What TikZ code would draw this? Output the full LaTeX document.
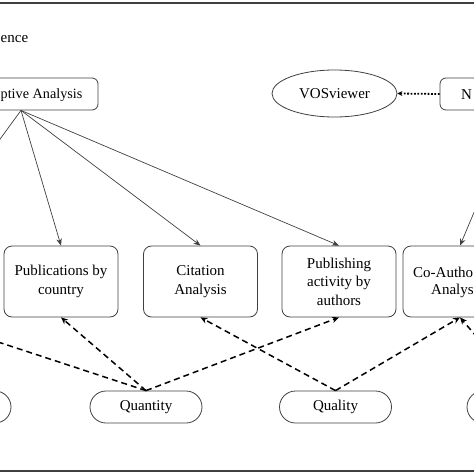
\documentclass[tikz,border=0pt]{standalone}
\usepackage{fontspec}
\setmainfont{Liberation Serif}
\usepackage{tikz}
\usetikzlibrary{arrows.meta,positioning,shapes.geometric}
\usepackage{xcolor}
\definecolor{edge}{HTML}{404040}
\tikzset{
  box/.style={draw=edge, line width=0.8pt, rounded corners=8pt, minimum width=114pt, minimum height=71pt, inner sep=0pt, align=center, font=\fontsize{15}{18.5}\selectfont},
  head/.style={draw=edge, line width=0.8pt, rounded corners=6pt, minimum width=154pt, minimum height=32pt, inner sep=0pt},
  pill/.style={draw=edge, line width=0.8pt, rounded corners=16pt, minimum width=112pt, minimum height=32pt, inner sep=0pt, font=\fontsize{15}{18}\selectfont},
  lbl/.style={inner sep=0pt, font=\fontsize{15}{18}\selectfont},
  feed/.style={-{Stealth[length=7pt,width=5.5pt]}, edge, line width=0.7pt},
  measure/.style={-{Stealth[length=7pt,width=6pt]}, black, line width=1.5pt, dash pattern=on 6pt off 4pt},
  dots/.style={-{Stealth[length=5pt,width=5pt]}, black, line width=1.8pt, dash pattern=on 1.8pt off 1.6pt}
}

\begin{document}
\begin{tikzpicture}[x=1pt,y=-1pt]
  \useasboundingbox (0,0) rectangle (474,474);
  \clip (0,0) rectangle (474,474);
  % frame
  \draw[edge, line width=1.2pt] (-200,3) rectangle (674,471);
  \node[lbl, anchor=west] (src) at (0.5,39) {ence};
  % top row
  \node[head] (desc) at (21,94) {};
  \node[lbl, anchor=west, font=\fontsize{14.2}{17}\selectfont] (desctxt) at (0.5,95) {ptive Analysis};
  \node[ellipse, draw=edge, line width=0.8pt, minimum width=125pt, minimum height=47pt, inner sep=0pt, font=\fontsize{15}{18}\selectfont] (vos) at (334.5,93.5) {VOSviewer};
  \node[head] (net) at (517,94) {};
  \node[lbl, anchor=west] (nettxt) at (461,95) {N};
  % middle row
  \coordinate (lboxtop) at (-78,246);
  \coordinate (lboxbot) at (-78,317);
  \node[box] (pub) at (61,281.5) {Publications by\\country};
  \node[box] (cit) at (200.5,281.5) {Citation\\Analysis};
  \node[box] (act) at (339,281.5) {Publishing\\activity by\\authors};
  \node[box] (coa) at (460,281.5) {};
  \node[lbl, anchor=west] (coatxt) at (413,272) {Co-Autho};
  \node[lbl, anchor=west] (coatxt2) at (431,291) {Analys};
  % bottom row
  \node[pill] (lpill) at (-45,407) {};
  \node[pill] (quant) at (146,407) {Quantity};
  \node[pill] (qual) at (335.5,407) {Quality};
  \node[pill] (rpill) at (523,407) {};
  % edges
  \foreach \t in {lboxtop,pub.north,cit.north,act.north}
    \draw[feed] (desc.south) -- (\t);
  \draw[feed] (net.south) -- (coa.north);
  \draw[dots] (net.west) -- (vos.east);
  \foreach \t in {lboxbot,pub.south,act.south}
    \draw[measure] (quant.north) -- (\t);
  \foreach \t in {cit.south,coa.south}
    \draw[measure] (qual.north) -- (\t);
  \draw[measure] (rpill.north) -- (coa.south);
\end{tikzpicture}
\end{document}
